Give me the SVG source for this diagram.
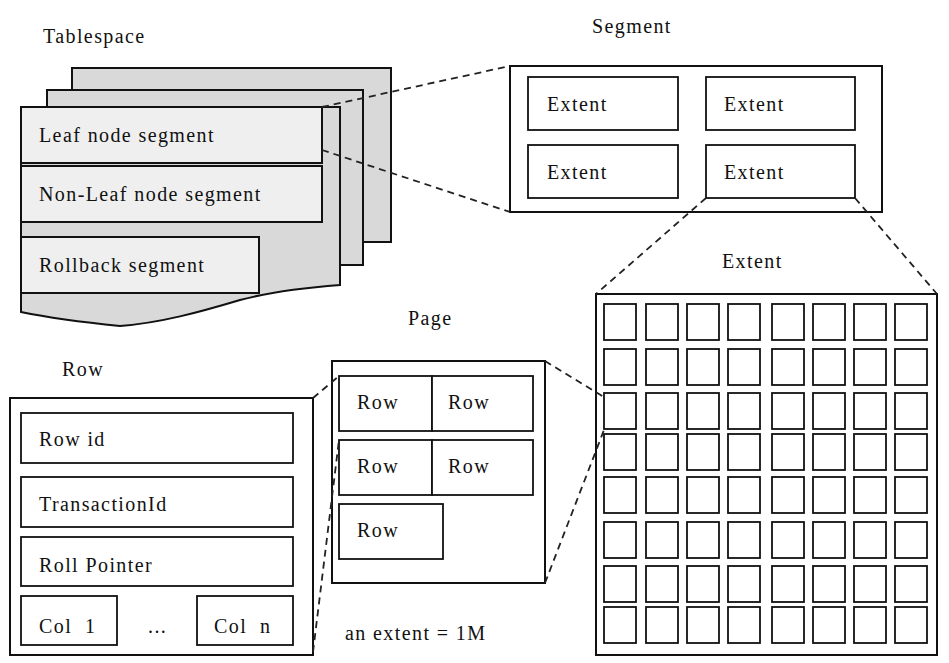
<svg xmlns="http://www.w3.org/2000/svg" width="949" height="663" viewBox="0 0 949 663">
<style>
text{font-family:"Liberation Serif","Times New Roman",serif;font-size:20px;letter-spacing:1.4px;fill:#111}
.b{fill:#fff;stroke:#111;stroke-width:2}
.g{fill:#d9d9d9;stroke:#111;stroke-width:2}
.l{fill:#efefef;stroke:#111;stroke-width:2}
.c{fill:#fff;stroke:#111;stroke-width:1.8}
.d{stroke:#222;stroke-width:1.8;stroke-dasharray:7,5;fill:none}
</style>
<rect width="949" height="663" fill="#fff"/>
<g id="tablespace">
<text x="43" y="43">Tablespace</text>
<rect class="g" x="72" y="68" width="319" height="174"/>
<rect class="g" x="47" y="90" width="316" height="175"/>
<path class="g" d="M21 107 H340 V285 C300 288 270 292 240 300 C200 312 160 323 120 326 C80 322 50 318 21 312 Z"/>
<rect class="l" x="21" y="107" width="301" height="56"/>
<text x="39" y="142">Leaf node segment</text>
<rect class="l" x="21" y="166" width="301" height="56"/>
<text x="39" y="201">Non-Leaf node segment</text>
<rect class="l" x="21" y="237" width="238" height="56"/>
<text x="39" y="272">Rollback segment</text>
</g>
<g id="segment">
<text x="592" y="33">Segment</text>
<rect class="b" x="510" y="66" width="372" height="146"/>
<rect class="c" x="528" y="77" width="150" height="53"/><text x="547" y="111">Extent</text>
<rect class="c" x="706" y="77" width="149" height="53"/><text x="724" y="111">Extent</text>
<rect class="c" x="528" y="145" width="150" height="53"/><text x="547" y="179">Extent</text>
<rect class="c" x="706" y="145" width="149" height="53"/><text x="724" y="179">Extent</text>
</g>
<g id="extent">
<text x="722" y="268">Extent</text>
<rect class="b" x="596" y="294" width="341" height="361"/>
<g fill="#fff" stroke="#111" stroke-width="1.8">
<g id="r0"><rect x="604" y="304" width="32" height="36"/><rect x="646" y="304" width="32" height="36"/><rect x="687" y="304" width="32" height="36"/><rect x="728" y="304" width="32" height="36"/><rect x="772" y="304" width="32" height="36"/><rect x="813" y="304" width="32" height="36"/><rect x="854" y="304" width="32" height="36"/><rect x="895" y="304" width="32" height="36"/></g>
<use href="#r0" y="45"/><use href="#r0" y="89"/><use href="#r0" y="130"/><use href="#r0" y="173"/><use href="#r0" y="218"/><use href="#r0" y="262"/><use href="#r0" y="303"/>
</g>
</g>
<g id="page">
<text x="408" y="325">Page</text>
<rect class="b" x="332" y="361" width="213" height="222"/>
<rect class="c" x="339" y="376" width="93" height="55"/><text x="357" y="409">Row</text>
<rect class="c" x="432" y="376" width="101" height="55"/><text x="448" y="409">Row</text>
<rect class="c" x="339" y="440" width="93" height="55"/><text x="357" y="473">Row</text>
<rect class="c" x="432" y="440" width="101" height="55"/><text x="448" y="473">Row</text>
<rect class="c" x="339" y="504" width="104" height="55"/><text x="357" y="537">Row</text>
<text x="345" y="640">an extent = 1M</text>
</g>
<g id="row">
<text x="62" y="376">Row</text>
<rect class="b" x="10" y="398" width="303" height="257"/>
<rect class="c" x="21" y="413" width="272" height="50"/><text x="39" y="446">Row id</text>
<rect class="c" x="21" y="477" width="272" height="50"/><text x="39" y="511">TransactionId</text>
<rect class="c" x="21" y="537" width="272" height="49"/><text x="39" y="572">Roll Pointer</text>
<rect class="c" x="21" y="596" width="96" height="49"/><text x="39" y="633" xml:space="preserve">Col  1</text>
<text x="148" y="633">...</text>
<rect class="c" x="197" y="596" width="96" height="49"/><text x="214" y="633" xml:space="preserve">Col  n</text>
</g>
<g id="connectors">
<line class="d" x1="322" y1="107" x2="510" y2="66"/>
<line class="d" x1="322" y1="150" x2="510" y2="212"/>
<line class="d" x1="706" y1="198" x2="596" y2="294"/>
<line class="d" x1="855" y1="198" x2="937" y2="294"/>
<line class="d" x1="545" y1="361" x2="604" y2="397"/>
<line class="d" x1="545" y1="583" x2="604" y2="430"/>
<line class="d" x1="313" y1="398" x2="339" y2="376"/>
<line class="d" x1="313" y1="652" x2="339" y2="440"/>
</g>
</svg>
